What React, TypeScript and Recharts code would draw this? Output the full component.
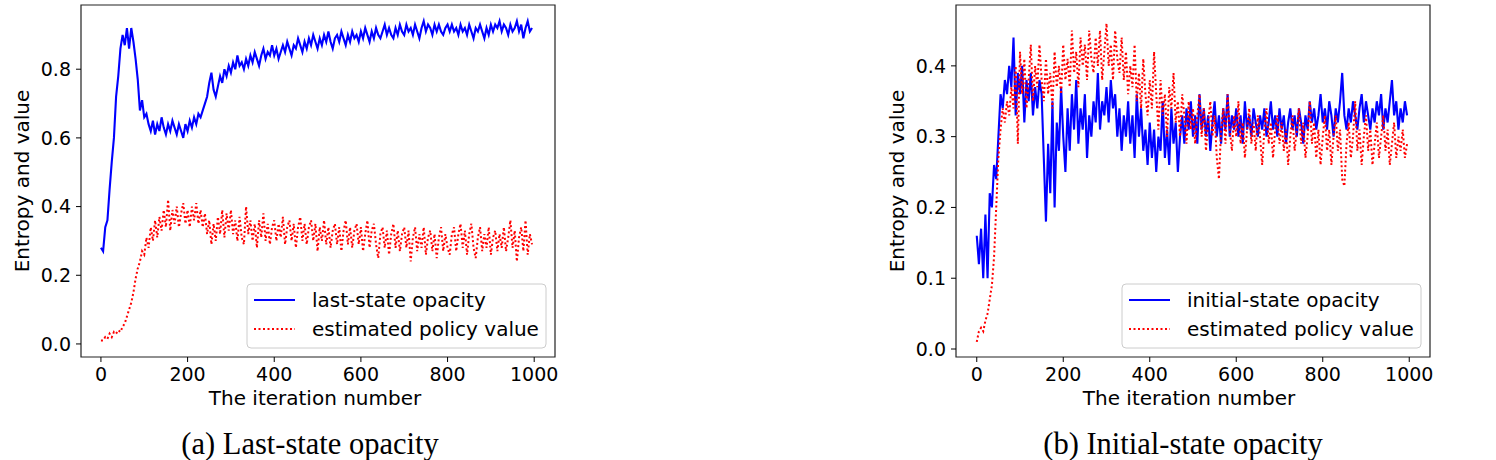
import { LineChart, Line, XAxis, YAxis, ReferenceArea } from "recharts";

// iteration spacing between the sampled points below
const STEP = 5;

// (a) last-state opacity, sampled every 5 iterations (0..995)
const LAST_OPACITY = [
  0.28, 0.27, 0.34, 0.36, 0.45, 0.53, 0.60, 0.72, 0.78, 0.86, 0.90, 0.87, 0.92, 0.86, 0.92, 0.88, 0.83, 0.77, 0.68, 0.71,
  0.66, 0.67, 0.64, 0.62, 0.65, 0.61, 0.64, 0.62, 0.66, 0.63, 0.61, 0.64, 0.62, 0.65, 0.63, 0.61, 0.64, 0.62, 0.60, 0.64,
  0.62, 0.65, 0.63, 0.66, 0.64, 0.67, 0.66, 0.68, 0.70, 0.72, 0.76, 0.79, 0.74, 0.72, 0.75, 0.78, 0.76, 0.80, 0.78, 0.81,
  0.79, 0.82, 0.80, 0.84, 0.81, 0.82, 0.80, 0.83, 0.81, 0.84, 0.82, 0.85, 0.83, 0.81, 0.84, 0.86, 0.83, 0.85, 0.84, 0.87,
  0.84, 0.86, 0.83, 0.85, 0.87, 0.85, 0.88, 0.86, 0.84, 0.87, 0.86, 0.89, 0.87, 0.85, 0.88, 0.86, 0.89, 0.87, 0.90, 0.88,
  0.86, 0.89, 0.87, 0.90, 0.88, 0.91, 0.88, 0.86, 0.89, 0.90, 0.88, 0.91, 0.89, 0.87, 0.90, 0.88, 0.91, 0.89, 0.90, 0.88,
  0.91, 0.89, 0.92, 0.90, 0.88, 0.91, 0.89, 0.92, 0.90, 0.89, 0.91, 0.93, 0.90, 0.92, 0.90, 0.89, 0.92, 0.90, 0.93, 0.91,
  0.90, 0.93, 0.91, 0.92, 0.90, 0.93, 0.91, 0.89, 0.92, 0.94, 0.91, 0.93, 0.92, 0.90, 0.93, 0.91, 0.93, 0.91, 0.90, 0.92,
  0.93, 0.91, 0.93, 0.91, 0.92, 0.90, 0.93, 0.91, 0.92, 0.90, 0.93, 0.91, 0.89, 0.92, 0.91, 0.93, 0.91, 0.89, 0.92, 0.90,
  0.93, 0.91, 0.93, 0.92, 0.94, 0.91, 0.93, 0.92, 0.90, 0.93, 0.91, 0.92, 0.94, 0.91, 0.93, 0.89, 0.92, 0.94, 0.91, 0.92,
];

// (a) estimated policy value
const LAST_VALUE = [
  0.01, 0.01, 0.02, 0.015, 0.03, 0.02, 0.035, 0.03, 0.04, 0.035, 0.05, 0.06, 0.08, 0.10, 0.12, 0.15, 0.19, 0.22, 0.24, 0.27,
  0.26, 0.31, 0.28, 0.34, 0.30, 0.36, 0.31, 0.37, 0.33, 0.39, 0.34, 0.42, 0.33, 0.39, 0.35, 0.40, 0.34, 0.38, 0.41, 0.35,
  0.39, 0.34, 0.40, 0.36, 0.41, 0.35, 0.39, 0.34, 0.38, 0.32, 0.36, 0.29, 0.35, 0.30, 0.37, 0.32, 0.39, 0.31, 0.38, 0.33,
  0.39, 0.32, 0.36, 0.30, 0.37, 0.31, 0.29, 0.40, 0.32, 0.36, 0.30, 0.35, 0.28, 0.36, 0.31, 0.38, 0.30, 0.35, 0.29, 0.34,
  0.36, 0.30, 0.35, 0.31, 0.37, 0.29, 0.34, 0.36, 0.30, 0.35, 0.28, 0.34, 0.37, 0.30, 0.35, 0.29, 0.34, 0.36, 0.30, 0.35,
  0.27, 0.34, 0.30, 0.36, 0.29, 0.34, 0.28, 0.33, 0.35, 0.29, 0.34, 0.27, 0.33, 0.36, 0.29, 0.34, 0.28, 0.33, 0.35, 0.29,
  0.34, 0.27, 0.32, 0.36, 0.28, 0.33, 0.35, 0.29, 0.25, 0.32, 0.34, 0.28, 0.33, 0.26, 0.32, 0.35, 0.28, 0.33, 0.27, 0.32,
  0.34, 0.28, 0.33, 0.24, 0.31, 0.34, 0.27, 0.32, 0.28, 0.34, 0.26, 0.31, 0.33, 0.27, 0.32, 0.25, 0.31, 0.34, 0.27, 0.32,
  0.28, 0.26, 0.32, 0.34, 0.27, 0.32, 0.35, 0.28, 0.33, 0.26, 0.32, 0.35, 0.28, 0.25, 0.31, 0.34, 0.27, 0.32, 0.28, 0.34,
  0.26, 0.31, 0.33, 0.27, 0.32, 0.28, 0.34, 0.27, 0.31, 0.36, 0.28, 0.33, 0.24, 0.31, 0.34, 0.27, 0.36, 0.26, 0.32, 0.29,
];

// (b) initial-state opacity
const INIT_OPACITY = [
  0.16, 0.12, 0.17, 0.10, 0.19, 0.10, 0.22, 0.20, 0.26, 0.24, 0.30, 0.36, 0.34, 0.38, 0.36, 0.40, 0.37, 0.44, 0.33, 0.39,
  0.36, 0.40, 0.32, 0.38, 0.35, 0.39, 0.33, 0.37, 0.34, 0.38, 0.36, 0.27, 0.18, 0.29, 0.22, 0.35, 0.20, 0.32, 0.28, 0.37,
  0.30, 0.25, 0.34, 0.28, 0.36, 0.31, 0.38, 0.29, 0.34, 0.31, 0.36, 0.27, 0.33, 0.30, 0.35, 0.32, 0.39, 0.31, 0.35, 0.33,
  0.37, 0.32, 0.38, 0.34, 0.36, 0.30, 0.34, 0.28, 0.33, 0.30, 0.35, 0.29, 0.33, 0.27, 0.36, 0.30, 0.34, 0.28, 0.31, 0.26,
  0.32, 0.27, 0.31, 0.25, 0.30, 0.28, 0.35, 0.27, 0.31, 0.26, 0.34, 0.29, 0.32, 0.25, 0.30, 0.33, 0.29, 0.34, 0.31, 0.35,
  0.30, 0.33, 0.29, 0.36, 0.31, 0.34, 0.30, 0.33, 0.28, 0.32, 0.35, 0.30, 0.33, 0.29, 0.34, 0.31, 0.36, 0.30, 0.33, 0.31,
  0.34, 0.30, 0.33, 0.29, 0.35, 0.31, 0.33, 0.30, 0.34, 0.32, 0.30, 0.33, 0.31, 0.34, 0.30, 0.32, 0.35, 0.31, 0.33, 0.30,
  0.34, 0.31, 0.33, 0.29, 0.32, 0.34, 0.31, 0.33, 0.30, 0.34, 0.32, 0.29, 0.33, 0.31, 0.35, 0.32, 0.34, 0.31, 0.33, 0.36,
  0.32, 0.34, 0.31, 0.35, 0.33, 0.30, 0.34, 0.32, 0.35, 0.39, 0.33, 0.31, 0.34, 0.32, 0.35, 0.33, 0.31, 0.34, 0.36, 0.32,
  0.35, 0.33, 0.31, 0.34, 0.32, 0.35, 0.33, 0.36, 0.31, 0.34, 0.32, 0.35, 0.38, 0.33, 0.35, 0.31, 0.34, 0.32, 0.35, 0.33,
];

// (b) estimated policy value
const INIT_VALUE = [
  0.01, 0.025, 0.03, 0.025, 0.04, 0.05, 0.07, 0.09, 0.13, 0.20, 0.27, 0.31, 0.34, 0.32, 0.35, 0.33, 0.37, 0.34, 0.40, 0.29,
  0.42, 0.36, 0.41, 0.34, 0.38, 0.43, 0.35, 0.40, 0.37, 0.43, 0.38, 0.35, 0.41, 0.36, 0.39, 0.34, 0.42, 0.37, 0.40, 0.36,
  0.43, 0.38, 0.41, 0.37, 0.45, 0.39, 0.42, 0.37, 0.44, 0.40, 0.43, 0.38, 0.45, 0.41, 0.39, 0.44, 0.40, 0.45, 0.38, 0.42,
  0.46, 0.40, 0.43, 0.38, 0.45, 0.41, 0.39, 0.44, 0.38, 0.42, 0.36, 0.40, 0.37, 0.43, 0.35, 0.39, 0.34, 0.41, 0.36, 0.33,
  0.38, 0.34, 0.42, 0.36, 0.31, 0.38, 0.33, 0.36, 0.30, 0.37, 0.34, 0.39, 0.32, 0.35, 0.30, 0.36, 0.33, 0.29, 0.35, 0.31,
  0.34, 0.29, 0.33, 0.36, 0.30, 0.34, 0.28, 0.32, 0.35, 0.30, 0.33, 0.27, 0.24, 0.31, 0.34, 0.29, 0.36, 0.31, 0.28, 0.33,
  0.30, 0.35, 0.29, 0.32, 0.27, 0.31, 0.34, 0.29, 0.32, 0.28, 0.33, 0.30, 0.26, 0.31, 0.34, 0.29, 0.32, 0.27, 0.31, 0.33,
  0.29, 0.32, 0.28, 0.31, 0.26, 0.30, 0.33, 0.28, 0.31, 0.34, 0.29, 0.32, 0.27, 0.30, 0.35, 0.29, 0.32, 0.27, 0.31, 0.26,
  0.30, 0.33, 0.28, 0.31, 0.26, 0.30, 0.33, 0.28, 0.31, 0.24, 0.23, 0.29, 0.32, 0.27, 0.30, 0.35, 0.28, 0.31, 0.26, 0.30,
  0.33, 0.28, 0.31, 0.26, 0.29, 0.32, 0.27, 0.30, 0.33, 0.28, 0.31, 0.26, 0.29, 0.32, 0.27, 0.30, 0.28, 0.31, 0.27, 0.29,
];

const X_TICKS = [0, 200, 400, 600, 800, 1000];
const LEFT_Y_TICKS = [0, 0.2, 0.4, 0.6, 0.8];
const RIGHT_Y_TICKS = [0, 0.1, 0.2, 0.3, 0.4];

const SANS = "DejaVu Sans";
const SERIF = "Liberation Serif";

function toRows(opacity: number[], value: number[]) {
  return opacity.map((v, i) => ({ iter: i * STEP, opacity: v, value: value[i] }));
}

interface PanelProps {
  left: number;
  rows: { iter: number; opacity: number; value: number }[];
  xDomain: [number, number];
  yDomain: [number, number];
  yTicks: number[];
}

function Panel({ left, rows, xDomain, yDomain, yTicks }: PanelProps) {
  const tick = { fontSize: 19, fill: "#000", fontFamily: SANS };
  return (
    <div style={{ position: "absolute", left, top: 0 }}>
      <LineChart width={560} height={420} data={rows} margin={{ top: 5, right: 5, left: 0, bottom: 0 }}>
        <XAxis
          dataKey="iter" type="number" domain={xDomain} ticks={X_TICKS} allowDataOverflow
          height={63} tick={tick} tickSize={5} tickMargin={6} stroke="#000" axisLine={false}
        />
        <YAxis
          type="number" domain={yDomain} ticks={yTicks} allowDataOverflow
          width={81} tick={tick} tickSize={5} tickMargin={5} stroke="#000" axisLine={false}
          tickFormatter={(v) => Number(v).toFixed(1)}
        />
        <ReferenceArea
          x1={xDomain[0]} x2={xDomain[1]} y1={yDomain[0]} y2={yDomain[1]}
          fill="none" stroke="#222" strokeWidth={1.2} ifOverflow="visible"
        />
        <Line type="linear" dataKey="opacity" stroke="#0000ff" strokeWidth={2.1} dot={false} isAnimationActive={false} />
        <Line type="linear" dataKey="value" stroke="#ff0000" strokeWidth={2} strokeDasharray="2 2.5" dot={false} isAnimationActive={false} />
      </LineChart>
    </div>
  );
}

function LegendBox({ x, first }: { x: number; first: string }) {
  return (
    <g>
      <rect x={x} y={284} width={299} height={64} rx={4} fill="#fff" fillOpacity={0.8} stroke="#cccccc" strokeWidth={1} />
      <line x1={x + 7} x2={x + 48} y1={300} y2={300} stroke="#0000ff" strokeWidth={2} />
      <line x1={x + 7} x2={x + 48} y1={329} y2={329} stroke="#ff0000" strokeWidth={2} strokeDasharray="2 2.5" />
      <text x={x + 65} y={307} fontSize={20} fontFamily={SANS} fill="#000">{first}</text>
      <text x={x + 65} y={336} fontSize={20} fontFamily={SANS} fill="#000">estimated policy value</text>
    </g>
  );
}

export default function App() {
  return (
    <div style={{ position: "absolute", left: 0, top: 0, width: 1496, height: 460, background: "#fff", overflow: "hidden" }}>
      <Panel left={0} rows={toRows(LAST_OPACITY, LAST_VALUE)} xDomain={[-46, 1048]} yDomain={[-0.038, 0.987]} yTicks={LEFT_Y_TICKS} />
      <Panel left={875} rows={toRows(INIT_OPACITY, INIT_VALUE)} xDomain={[-48, 1048]} yDomain={[-0.0113, 0.486]} yTicks={RIGHT_Y_TICKS} />
      <svg width={1496} height={460} style={{ position: "absolute", left: 0, top: 0, pointerEvents: "none" }}>
        <LegendBox x={247} first="last-state opacity" />
        <LegendBox x={1122} first="initial-state opacity" />

        <text transform="translate(29,181) rotate(-90)" textAnchor="middle" fontSize={20} fontFamily={SANS} fill="#000">Entropy and value</text>
        <text transform="translate(904,181) rotate(-90)" textAnchor="middle" fontSize={20} fontFamily={SANS} fill="#000">Entropy and value</text>

        <text x={315} y={405} textAnchor="middle" fontSize={20} fontFamily={SANS} fill="#000">The iteration number</text>
        <text x={1189} y={405} textAnchor="middle" fontSize={20} fontFamily={SANS} fill="#000">The iteration number</text>

        <text x={310} y={454} textAnchor="middle" fontSize={30.5} fontFamily={SERIF} fill="#000">(a) Last-state opacity</text>
        <text x={1183} y={454} textAnchor="middle" fontSize={30.5} fontFamily={SERIF} fill="#000">(b) Initial-state opacity</text>
      </svg>
    </div>
  );
}
